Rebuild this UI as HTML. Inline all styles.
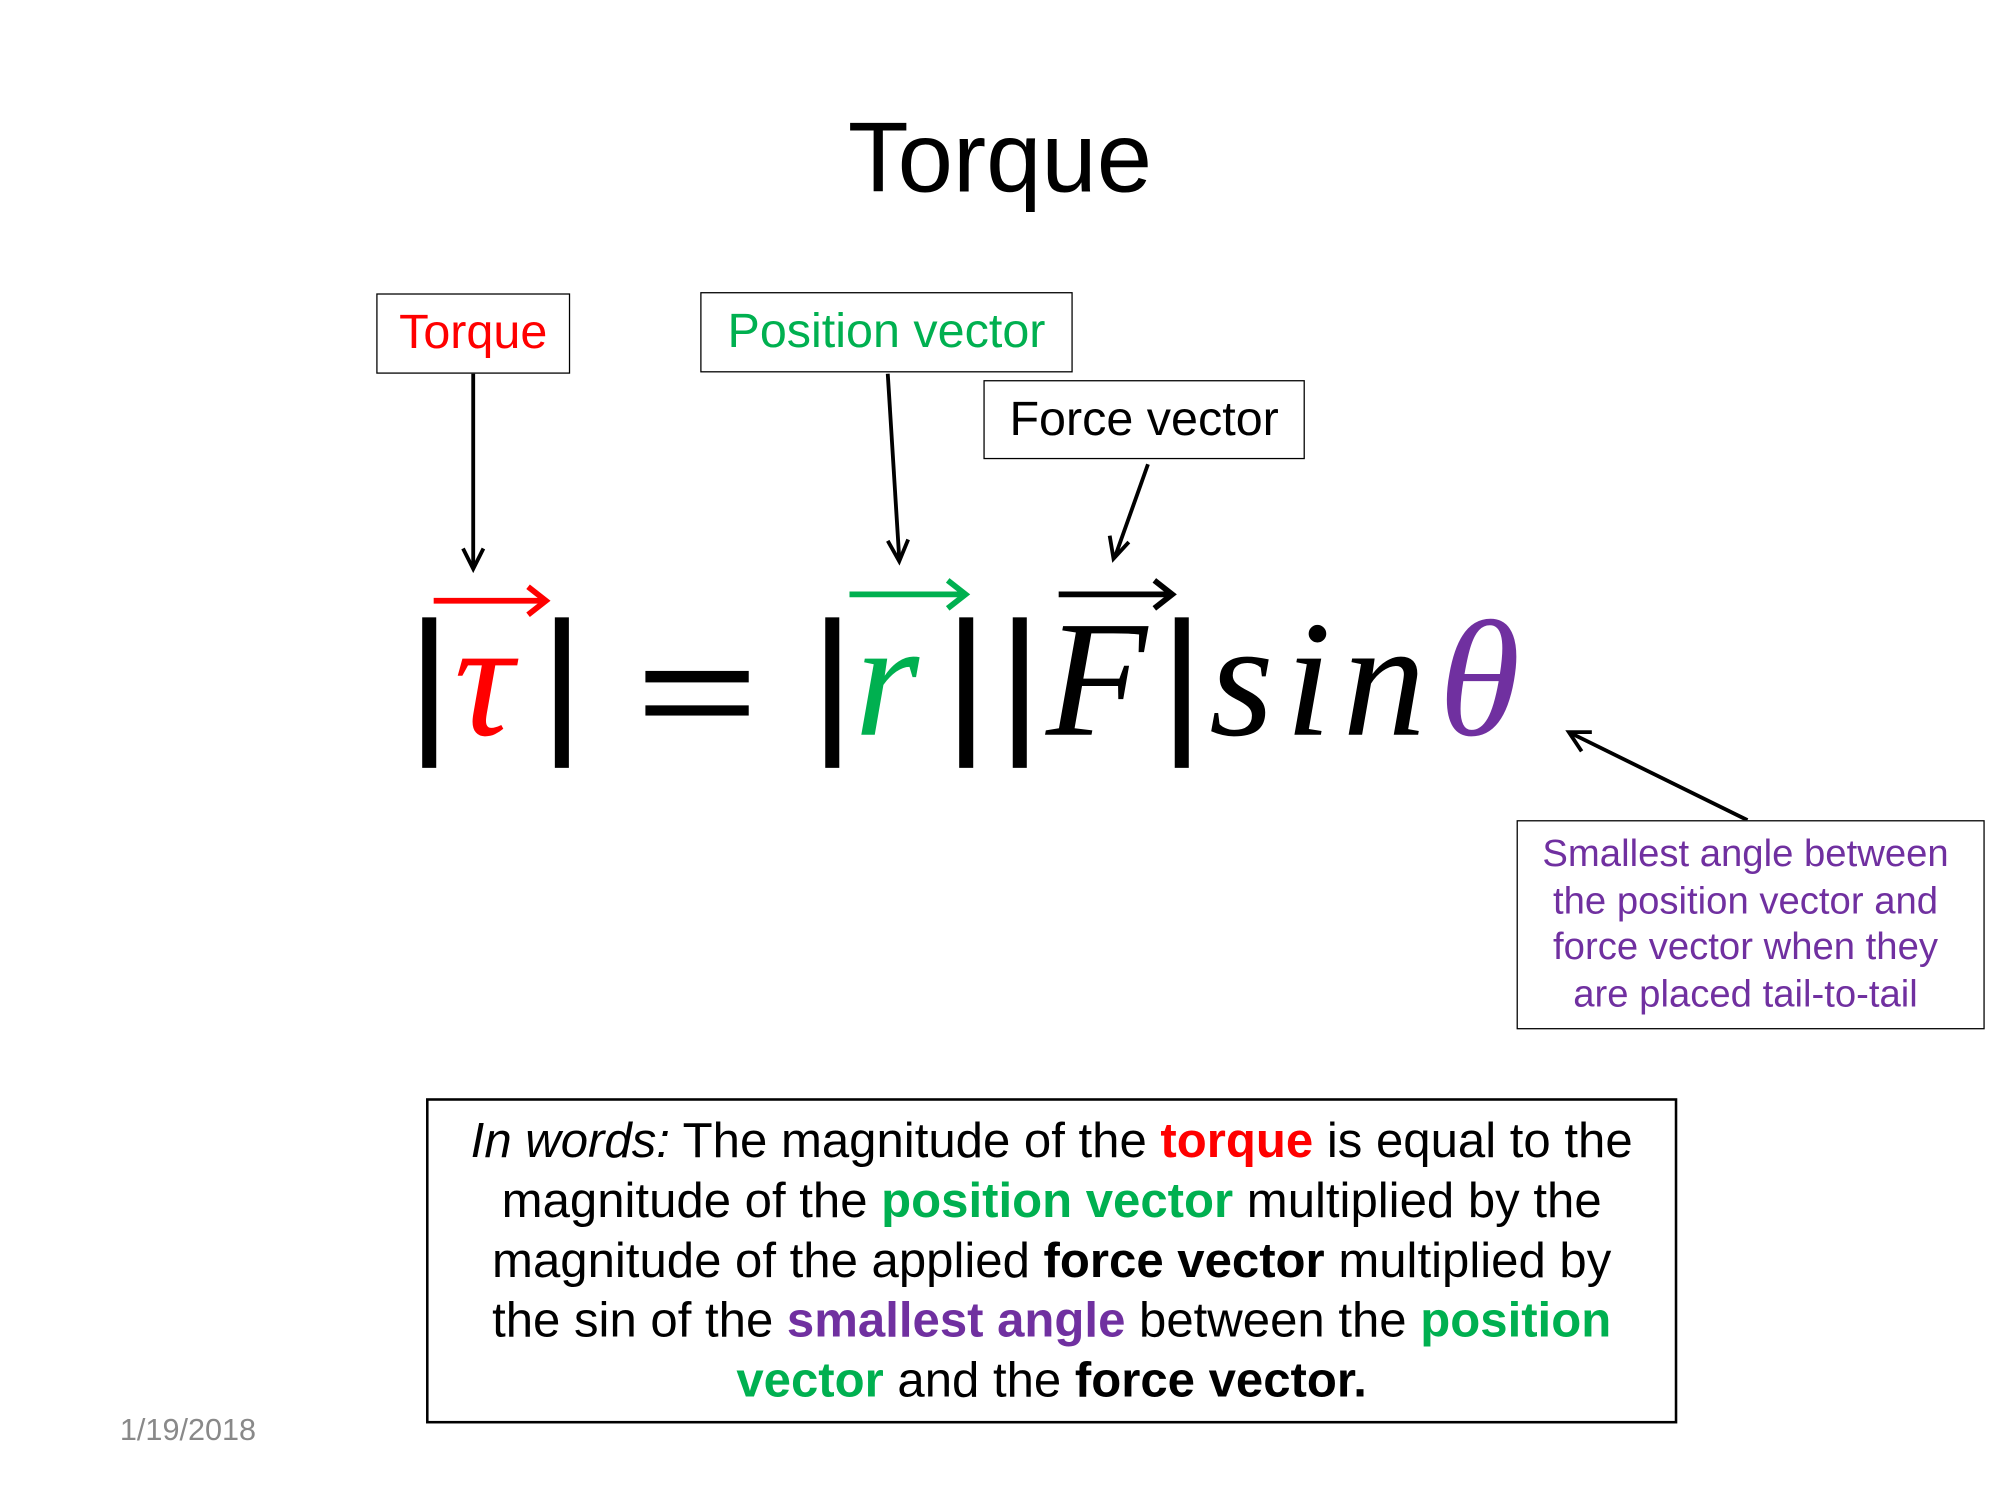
<!DOCTYPE html>
<html><head><meta charset="utf-8"><style>
html,body{margin:0;padding:0;background:#fff;}
body{width:2000px;height:1500px;overflow:hidden;position:relative;}
#s{position:absolute;left:0;top:0;width:1568px;height:1176px;transform:scale(1.27551);transform-origin:0 0;font-family:"Liberation Sans",Arial,sans-serif;}
.a{position:absolute;white-space:nowrap;}
.box{position:absolute;border:1.5px solid #000;box-sizing:border-box;background:#fff;}
.eq{position:absolute;font-family:"Liberation Serif",serif;font-style:italic;font-size:130px;line-height:1;}
.bar{position:absolute;background:#000;width:11px;top:484px;height:118px;}
.r{color:#FF0000}.g{color:#00B050}.p{color:#7030A0}
</style></head><body><div id="s">
<div class="a" style="left:0;width:1568px;text-align:center;top:78px;font-size:78px;">Torque</div>

<div class="box" style="left:295px;top:230px;width:152px;height:63px;"></div>
<div class="a r" style="left:295px;width:152px;text-align:center;top:240px;font-size:38px;">Torque</div>
<div class="box" style="left:549px;top:229px;width:292px;height:63px;"></div>
<div class="a g" style="left:549px;width:292px;text-align:center;top:239px;font-size:38px;">Position vector</div>
<div class="box" style="left:771px;top:298px;width:252px;height:62px;"></div>
<div class="a" style="left:771px;width:252px;text-align:center;top:308px;font-size:38px;">Force vector</div>

<div class="bar" style="left:331px"></div><div class="bar" style="left:435px"></div>
<div class="bar" style="left:647px"></div><div class="bar" style="left:752px"></div>
<div class="bar" style="left:794px"></div><div class="bar" style="left:921px"></div>
<div style="position:absolute;left:506px;top:526px;width:81px;height:9px;background:#000"></div>
<div style="position:absolute;left:506px;top:553px;width:81px;height:8px;background:#000"></div>
<div class="eq r" style="left:356px;top:468px;">τ</div>
<div class="eq g" style="left:670px;top:468px;">r</div>
<div class="eq" style="left:820px;top:468px;">F</div>
<div class="eq" style="left:948px;top:468px;letter-spacing:9px;">sin</div>
<div class="eq p" style="left:1128px;top:468px;">θ</div>

<svg style="position:absolute;left:0;top:0" width="1568" height="1176">
<g fill="none" stroke-width="3" stroke="#000">
<line x1="371" y1="293" x2="371" y2="445"/><polyline points="363,430 371,446 379,430"/>
<line x1="696" y1="293" x2="705" y2="438"/><polyline points="696,424 705,440 712,423"/>
<line x1="900" y1="364" x2="874" y2="437"/><polyline points="870,420 873,438 885,425"/>
<line x1="1370" y1="643" x2="1232" y2="575"/><polyline points="1240,589 1230,574 1248,574"/>
</g>
<g fill="none" stroke-width="4.5">
<line x1="340" y1="471" x2="428" y2="471" stroke="#FF0000"/><polyline points="414,460 428,471 414,482" stroke="#FF0000"/>
<line x1="666" y1="466" x2="757" y2="466" stroke="#00B050"/><polyline points="743,455 757,466 743,477" stroke="#00B050"/>
<line x1="830" y1="466" x2="919" y2="466" stroke="#000"/><polyline points="905,455 919,466 905,477" stroke="#000"/>
</g>
</svg>

<div class="box" style="left:1189px;top:643px;width:367px;height:164px;"></div>
<div class="a p" style="left:1185px;width:367px;text-align:center;top:652px;font-size:30px;line-height:36.5px;white-space:normal;">Smallest angle between<br>the position vector and<br>force vector when they<br>are placed tail-to-tail</div>

<div class="box" style="left:334px;top:861px;width:981px;height:255px;border-width:2.5px;"></div>
<div class="a" style="left:334px;width:981px;text-align:center;top:871px;font-size:38.5px;line-height:47px;white-space:normal;">
<i>In words:</i> The magnitude of the <b class="r">torque</b> is equal to the<br>magnitude of the <b class="g">position vector</b> multiplied by the<br>magnitude of the applied <b>force vector</b> multiplied by<br>the sin of the <b class="p">smallest angle</b> between the <b class="g">position</b><br><b class="g">vector</b> and the <b>force vector.</b></div>

<div class="a" style="left:94px;top:1108px;font-size:24px;color:#898989;">1/19/2018</div>
</div></body></html>
